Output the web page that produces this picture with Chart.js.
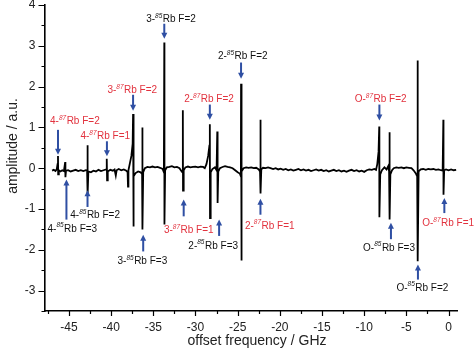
<!DOCTYPE html>
<html>
<head>
<meta charset="utf-8">
<script src="https://cdn.jsdelivr.net/npm/chart.js@4/dist/chart.umd.min.js"></script>
<style>
html,body{margin:0;padding:0;background:#fff;}
#wrap{width:474px;height:356px;position:relative;}
</style>
</head>
<body>
<div id="wrap"><canvas id="c"></canvas></div>
<script>
// measured trace: [offset frequency (GHz), amplitude (a.u.)]
const trace = [
[-47.0,-0.06],[-46.8,-0.04],[-46.6,-0.07],[-46.45,-0.03],[-46.35,0.1],[-46.3,0.3],[-46.28,-0.15],[-46.2,-0.05],
[-46.0,-0.08],[-45.8,-0.05],[-45.6,-0.07],[-45.45,0.15],[-45.42,-0.22],[-45.35,-0.06],[-45.1,-0.05],[-44.8,-0.08],
[-44.5,-0.06],[-44.2,-0.04],[-43.9,-0.07],[-43.6,-0.05],[-43.3,-0.07],[-43.0,-0.05],[-42.85,-0.06],[-42.8,0.56],
[-42.78,-0.65],[-42.7,-0.08],[-42.4,-0.1],[-42.1,-0.06],[-41.8,-0.08],[-41.5,-0.04],[-41.2,-0.07],[-40.9,-0.05],
[-40.6,-0.03],[-40.52,0.23],[-40.48,-0.3],[-40.4,-0.08],[-40.1,-0.04],[-39.8,-0.06],[-39.6,-0.03],[-39.45,-0.18],
[-39.35,-0.05],[-39.1,-0.02],[-38.8,-0.05],[-38.5,-0.03],[-38.2,-0.06],[-38.05,-0.1],[-38.0,-0.45],[-37.95,-0.05],
[-37.8,0.1],[-37.6,0.3],[-37.45,0.6],[-37.4,1.33],[-37.38,-1.43],[-37.3,-0.2],[-37.1,-0.12],[-36.8,-0.08],
[-36.5,-0.1],[-36.33,-0.15],[-36.3,1.0],[-36.28,-1.5],[-36.2,-0.1],[-36.0,0.0],[-35.7,0.03],[-35.4,0.02],
[-35.1,0.04],[-34.8,0.02],[-34.5,0.03],[-34.2,0.01],[-33.9,-0.02],[-33.75,-0.1],[-33.7,3.08],[-33.68,-1.38],
[-33.6,-0.05],[-33.4,0.02],[-33.1,0.03],[-32.8,0.05],[-32.5,0.02],[-32.2,0.03],[-31.9,0.0],[-31.7,-0.06],
[-31.55,-0.1],[-31.5,1.42],[-31.48,-0.55],[-31.4,-0.05],[-31.2,0.02],[-30.9,0.04],[-30.6,0.02],[-30.3,0.03],
[-30.0,0.04],[-29.7,0.02],[-29.4,0.04],[-29.1,0.03],[-28.9,0.0],[-28.7,0.1],[-28.5,0.3],[-28.35,0.55],
[-28.3,1.08],[-28.28,-1.22],[-28.2,-0.1],[-28.0,-0.02],[-27.7,0.02],[-27.5,-0.05],[-27.42,0.9],[-27.38,-0.85],
[-27.3,-0.08],[-27.1,0.0],[-26.8,0.03],[-26.5,0.05],[-26.2,0.03],[-25.9,0.02],[-25.6,0.0],[-25.3,-0.05],
[-25.0,-0.1],[-24.75,-0.13],[-24.62,-0.2],[-24.6,2.07],[-24.58,-2.26],[-24.5,-0.08],[-24.3,0.0],[-24.0,0.02],
[-23.7,0.01],[-23.4,0.02],[-23.1,0.0],[-22.8,0.01],[-22.5,-0.03],[-22.35,-0.08],[-22.3,1.19],[-22.28,-0.62],
[-22.2,-0.03],[-22.0,0.01],[-21.7,0.0],[-21.4,0.02],[-21.1,0.0],[-20.8,-0.02],[-20.5,0.0],[-20.2,-0.03],
[-19.9,-0.01],[-19.6,-0.04],[-19.3,-0.02],[-19.0,-0.05],[-18.7,-0.03],[-18.4,-0.06],[-18.1,-0.04],[-17.8,-0.02],
[-17.5,-0.05],[-17.2,-0.03],[-16.9,-0.06],[-16.6,-0.04],[-16.3,-0.07],[-16.0,-0.05],[-15.7,-0.03],[-15.4,-0.06],
[-15.1,-0.04],[-14.8,-0.07],[-14.5,-0.05],[-14.2,-0.08],[-13.9,-0.06],[-13.6,-0.04],[-13.3,-0.07],[-13.0,-0.05],
[-12.7,-0.08],[-12.4,-0.06],[-12.1,-0.09],[-11.8,-0.06],[-11.5,-0.04],[-11.2,-0.07],[-10.9,-0.05],[-10.6,-0.08],
[-10.3,-0.06],[-10.0,-0.09],[-9.7,-0.05],[-9.4,-0.03],[-9.1,-0.04],[-8.8,-0.02],[-8.6,-0.04],[-8.45,0.1],
[-8.3,0.4],[-8.22,1.02],[-8.2,-1.2],[-8.1,-0.15],[-7.9,-0.05],[-7.6,0.02],[-7.35,-0.03],[-7.15,0.05],
[-7.05,-0.08],[-7.0,0.88],[-6.98,-1.26],[-6.9,-0.15],[-6.7,-0.05],[-6.5,0.0],[-6.2,0.02],[-5.9,0.01],
[-5.6,0.02],[-5.3,0.0],[-5.0,0.02],[-4.7,0.01],[-4.4,0.0],[-4.15,-0.05],[-3.9,-0.12],[-3.72,-0.2],
[-3.67,2.64],[-3.65,-2.28],[-3.55,-0.08],[-3.3,-0.03],[-3.0,-0.02],[-2.7,-0.04],[-2.4,-0.02],[-2.1,-0.03],
[-1.8,-0.02],[-1.5,-0.04],[-1.2,-0.03],[-0.9,-0.05],[-0.7,-0.06],[-0.62,1.19],[-0.6,-0.65],[-0.52,-0.05],
[-0.3,-0.03],[0.0,-0.05],[0.3,-0.03],[0.6,-0.05],[0.9,-0.04]
];

const xMajorTicks = [-45,-40,-35,-30,-25,-20,-15,-10,-5,0];
const xMinorTicks = [-47.5,-42.5,-37.5,-32.5,-27.5,-22.5,-17.5,-12.5,-7.5,-2.5];
const yMajorTicks = [-3,-2,-1,0,1,2,3,4];
const yMinorTicks = [-3.5,-2.5,-1.5,-0.5,0.5,1.5,2.5,3.5];

// peak labels: prefix, isotope, suffix, centre (GHz, a.u.)
const peakLabels = [
  ['4-','87','Rb F=2',-44.3,1.17],
  ['4-','87','Rb F=1',-40.7,0.80],
  ['3-','87','Rb F=2',-37.5,1.92],
  ['3-','85','Rb F=2',-32.9,3.66],
  ['2-','87','Rb F=2',-28.4,1.70],
  ['2-','85','Rb F=2',-24.4,2.76],
  ['O-','87','Rb F=2',-8.05,1.70],
  ['4-','85','Rb F=2',-41.9,-1.14],
  ['4-','85','Rb F=3',-44.6,-1.47],
  ['3-','85','Rb F=3',-36.3,-2.26],
  ['3-','87','Rb F=1',-30.8,-1.51],
  ['2-','85','Rb F=3',-27.9,-1.88],
  ['2-','87','Rb F=1',-21.2,-1.39],
  ['O-','85','Rb F=3',-7.06,-1.93],
  ['O-','85','Rb F=2',-3.1,-2.91],
  ['O-','87','Rb F=1',-0.05,-1.33]
];
// arrows: x (GHz), tail (a.u.), tip (a.u.)
const peakArrows = [
  [-46.3,0.94,0.33],[-40.5,0.66,0.29],[-37.4,1.80,1.41],[-33.7,3.54,3.17],
  [-24.6,2.59,2.19],[-28.3,1.56,1.19],[-8.2,1.56,1.17],
  [-42.8,-0.95,-0.54],[-45.3,-1.26,-0.28],[-36.2,-2.04,-1.63],[-31.4,-1.18,-0.77],
  [-27.2,-1.66,-1.26],[-22.3,-1.14,-0.75],[-6.83,-1.74,-1.34],[-3.63,-2.73,-2.36],[-0.5,-1.10,-0.73]
];

const FONT = '"Liberation Sans", Arial, Helvetica, sans-serif';
const RED = '#e2323e', BLUE = '#2f4fa3';

const overlay = {
  id:'overlay',
  afterDraw(chart){
    const ctx = chart.ctx, xs = chart.scales.x, ys = chart.scales.y, ca = chart.chartArea;
    ctx.save();
    // tick marks
    ctx.strokeStyle = '#000'; ctx.lineWidth = 1.2;
    ctx.beginPath();
    xMajorTicks.forEach(v=>{const p=Math.round(xs.getPixelForValue(v))+0.5; ctx.moveTo(p,ca.bottom); ctx.lineTo(p,ca.bottom+5);});
    xMinorTicks.forEach(v=>{const p=Math.round(xs.getPixelForValue(v))+0.5; ctx.moveTo(p,ca.bottom); ctx.lineTo(p,ca.bottom+3);});
    yMajorTicks.forEach(v=>{const p=Math.round(ys.getPixelForValue(v))+0.5; ctx.moveTo(ca.left,p); ctx.lineTo(ca.left-6,p);});
    yMinorTicks.forEach(v=>{const p=Math.round(ys.getPixelForValue(v))+0.5; ctx.moveTo(ca.left,p); ctx.lineTo(ca.left-3,p);});
    ctx.stroke();
    // axis titles
    ctx.fillStyle = '#222';
    ctx.font = '14px ' + FONT;
    ctx.textAlign = 'center'; ctx.textBaseline = 'middle';
    ctx.fillText('offset frequency / GHz', 257, 341);
    ctx.save();
    ctx.translate(13, 146); ctx.rotate(-Math.PI/2);
    ctx.fillText('amplitude / a.u.', 0, 0);
    ctx.restore();
    // arrows
    ctx.strokeStyle = BLUE; ctx.fillStyle = BLUE; ctx.lineWidth = 2;
    peakArrows.forEach(([x,y0,y1])=>{
      const px = xs.getPixelForValue(x), p0 = ys.getPixelForValue(y0), p1 = ys.getPixelForValue(y1);
      const dir = p1 > p0 ? 1 : -1;
      ctx.beginPath(); ctx.moveTo(px,p0); ctx.lineTo(px,p1 - dir*5); ctx.stroke();
      ctx.beginPath(); ctx.moveTo(px-3,p1-dir*6); ctx.lineTo(px+3,p1-dir*6); ctx.lineTo(px,p1); ctx.closePath(); ctx.fill();
    });
    // labels
    ctx.textAlign = 'left'; ctx.textBaseline = 'alphabetic';
    peakLabels.forEach(([pre,iso,suf,x,y])=>{
      const cx = xs.getPixelForValue(x), cy = ys.getPixelForValue(y);
      const mainF = '10px ' + FONT, supF = 'italic 6.5px ' + FONT;
      ctx.font = mainF; const w1 = ctx.measureText(pre).width, w3 = ctx.measureText(suf).width;
      ctx.font = supF; const w2 = ctx.measureText(iso).width + 0.5;
      let sx = cx - (w1+w2+w3)/2; const base = cy + 3.6;
      ctx.fillStyle = iso === '87' ? RED : '#111';
      ctx.font = mainF; ctx.fillText(pre, sx, base); sx += w1;
      ctx.font = supF; ctx.fillText(iso, sx, base - 4.5); sx += w2;
      ctx.font = mainF; ctx.fillText(suf, sx, base);
    });
    ctx.restore();
  }
};

new Chart(document.getElementById('c'), {
  type:'line',
  data:{datasets:[{
    data: trace.map(([x,y])=>({x,y})),
    borderColor:'#000', borderWidth:1.8, pointRadius:0, tension:0, fill:false
  }]},
  options:{
    responsive:true, maintainAspectRatio:false, animation:false, devicePixelRatio:1,
    layout:{padding:{top:5,right:17,left:0,bottom:0}},
    plugins:{legend:{display:false}, tooltip:{enabled:false}},
    scales:{
      x:{type:'linear', min:-47.9, max:1,
        afterBuildTicks:s=>{s.ticks = xMajorTicks.map(v=>({value:v}));},
        afterFit:s=>{s.height = 45; s.paddingLeft = 0; s.paddingRight = 0;},
        grid:{display:true, drawOnChartArea:false, drawTicks:false},
        border:{display:true, color:'#000', width:1.6},
        ticks:{padding:9, color:'#222', font:{family:FONT,size:12}, maxRotation:0, autoSkip:false, callback:v=>String(v)}
      },
      y:{type:'linear', min:-3.5, max:4,
        afterBuildTicks:s=>{s.ticks = yMajorTicks.map(v=>({value:v}));},
        afterFit:s=>{s.width = 44.5; s.paddingTop = 0; s.paddingBottom = 0;},
        grid:{display:true, drawOnChartArea:false, drawTicks:false},
        border:{display:true, color:'#000', width:1.6},
        ticks:{padding:9, color:'#222', font:{family:FONT,size:12}, autoSkip:false, callback:v=>String(v)}
      }
    }
  },
  plugins:[overlay]
});
</script>
</body>
</html>
